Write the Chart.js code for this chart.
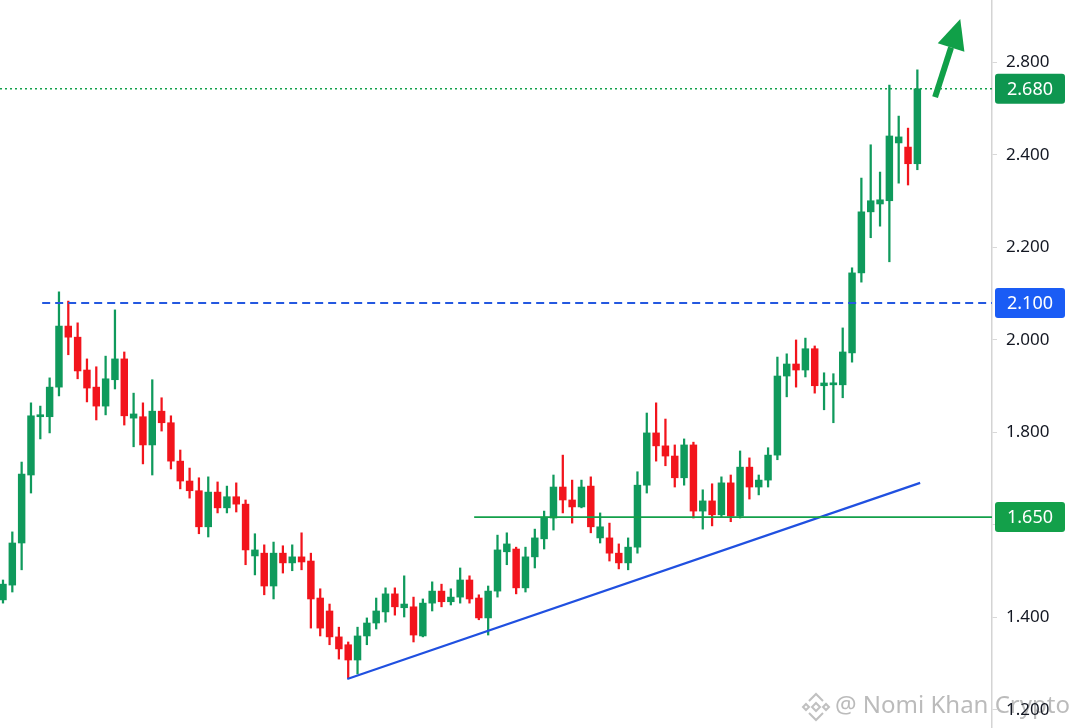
<!DOCTYPE html>
<html>
<head>
<meta charset="utf-8">
<script src="https://cdn.jsdelivr.net/npm/chart.js@4.4.1/dist/chart.umd.min.js"></script>
<style>
  html, body { margin: 0; padding: 0; background: #ffffff; }
  #wrap { width: 1080px; height: 728px; }
</style>
</head>
<body>
<div id="wrap"><canvas id="grafico" width="1080" height="728"></canvas></div>
<script>
// ================= DADOS DAS VELAS =================
const candleOpen = [
  1.438, 1.470, 1.561, 1.708, 1.834, 1.834, 1.898, 2.030, 2.006, 1.935,
  1.898, 1.857, 1.914, 1.959, 1.831, 1.834, 1.773, 1.846, 1.821, 1.738,
  1.695, 1.674, 1.596, 1.671, 1.637, 1.661, 1.645, 1.533, 1.539, 1.468,
  1.539, 1.518, 1.531, 1.522, 1.442, 1.414, 1.358, 1.341, 1.308, 1.360,
  1.388, 1.412, 1.451, 1.421, 1.423, 1.360, 1.431, 1.457, 1.434, 1.444,
  1.481, 1.442, 1.399, 1.457, 1.542, 1.548, 1.464, 1.531, 1.570, 1.615,
  1.682, 1.654, 1.639, 1.684, 1.572, 1.572, 1.539, 1.518, 1.552, 1.686,
  1.799, 1.771, 1.749, 1.702, 1.773, 1.630, 1.652, 1.622, 1.691, 1.619,
  1.725, 1.682, 1.697, 1.751, 1.922, 1.948, 1.935, 1.981, 1.901, 1.903,
  1.903, 1.972, 2.145, 2.277, 2.294, 2.301, 2.426, 2.417, 2.381
];
const candleHigh = [
  1.481, 1.585, 1.736, 1.864, 1.857, 1.918, 2.104, 2.084, 2.037, 1.959,
  1.942, 1.965, 2.065, 1.974, 1.885, 1.864, 1.914, 1.875, 1.836, 1.762,
  1.723, 1.702, 1.704, 1.693, 1.684, 1.691, 1.654, 1.581, 1.557, 1.563,
  1.555, 1.557, 1.583, 1.539, 1.462, 1.429, 1.379, 1.347, 1.379, 1.399,
  1.442, 1.464, 1.464, 1.490, 1.444, 1.440, 1.477, 1.472, 1.462, 1.507,
  1.490, 1.449, 1.468, 1.578, 1.583, 1.552, 1.552, 1.591, 1.630, 1.708,
  1.751, 1.697, 1.697, 1.704, 1.626, 1.604, 1.559, 1.572, 1.715, 1.842,
  1.864, 1.829, 1.773, 1.786, 1.779, 1.676, 1.689, 1.704, 1.708, 1.760,
  1.745, 1.708, 1.767, 1.963, 1.970, 2.000, 2.004, 1.987, 1.929, 1.927,
  2.026, 2.156, 2.350, 2.422, 2.363, 2.551, 2.484, 2.458, 2.584
];
const candleLow = [
  1.431, 1.455, 1.503, 1.669, 1.786, 1.799, 1.879, 1.968, 1.916, 1.866,
  1.827, 1.838, 1.894, 1.816, 1.769, 1.732, 1.708, 1.803, 1.721, 1.678,
  1.658, 1.581, 1.574, 1.626, 1.626, 1.628, 1.514, 1.492, 1.449, 1.440,
  1.496, 1.501, 1.503, 1.377, 1.360, 1.341, 1.310, 1.269, 1.278, 1.341,
  1.375, 1.390, 1.405, 1.401, 1.347, 1.358, 1.414, 1.423, 1.427, 1.431,
  1.431, 1.395, 1.362, 1.444, 1.514, 1.451, 1.455, 1.507, 1.548, 1.589,
  1.626, 1.604, 1.637, 1.583, 1.561, 1.522, 1.505, 1.503, 1.539, 1.669,
  1.738, 1.728, 1.682, 1.686, 1.615, 1.591, 1.598, 1.617, 1.607, 1.615,
  1.656, 1.665, 1.682, 1.741, 1.877, 1.898, 1.920, 1.885, 1.849, 1.821,
  1.875, 1.952, 2.125, 2.221, 2.246, 2.169, 2.339, 2.335, 2.368
];
const candleClose = [
  1.472, 1.561, 1.710, 1.836, 1.838, 1.898, 2.030, 2.006, 1.933, 1.896,
  1.857, 1.916, 1.959, 1.836, 1.840, 1.773, 1.846, 1.821, 1.738, 1.695,
  1.674, 1.596, 1.671, 1.637, 1.661, 1.645, 1.546, 1.546, 1.468, 1.539,
  1.518, 1.531, 1.520, 1.440, 1.377, 1.358, 1.332, 1.308, 1.360, 1.388,
  1.414, 1.451, 1.423, 1.429, 1.362, 1.431, 1.457, 1.434, 1.444, 1.481,
  1.440, 1.399, 1.457, 1.546, 1.559, 1.464, 1.531, 1.572, 1.617, 1.682,
  1.654, 1.639, 1.682, 1.596, 1.596, 1.539, 1.518, 1.552, 1.686, 1.799,
  1.771, 1.749, 1.702, 1.773, 1.630, 1.652, 1.622, 1.691, 1.619, 1.725,
  1.682, 1.697, 1.751, 1.922, 1.948, 1.935, 1.981, 1.901, 1.907, 1.907,
  1.974, 2.145, 2.277, 2.301, 2.303, 2.441, 2.439, 2.381, 2.543
];

// ================= EIXO Y =================
const tickValues = [1.2, 1.4, 1.6, 1.8, 2.0, 2.2, 2.4, 2.6];
const tickLabels = ['1.200', '1.400', '1.600', '1.800', '2.000', '2.200', '2.400', '2.800'];

// ================= NÍVEIS E LINHA DE TENDÊNCIA =================
const levelValues = [2.543, 2.080, 1.617];
const levelLabels = ['2.680', '2.100', '1.650'];
const levelStart = [-0.32, 4.2, 50.5];
const trendX = [36.9, 98.3];
const trendY = [1.267, 1.691];
const arrowX = [99.9, 102.6];
const arrowY = [2.525, 2.694];

const VERDE = '#0f9a5c';
const VERMELHO = '#f2141c';
const X_MIN = -0.32, X_MAX = 106;

const idx = candleOpen.map((_, i) => i);
const corVela = idx.map(i => candleClose[i] >= candleOpen[i] ? VERDE : VERMELHO);

// Plugin: marca d'água, caixas dos níveis e seta
const extras = {
  id: 'extras',
  beforeDraw(chart) {
    const ctx = chart.ctx;
    ctx.save();
    // ícone
    ctx.strokeStyle = 'rgba(185,185,185,0.9)';
    ctx.lineWidth = 2;
    const losango = (cx, cy, r) => {
      ctx.beginPath();
      ctx.moveTo(cx, cy - r); ctx.lineTo(cx + r, cy); ctx.lineTo(cx, cy + r); ctx.lineTo(cx - r, cy);
      ctx.closePath(); ctx.stroke();
    };
    losango(816, 707, 4);
    losango(806, 707, 3);
    losango(826, 707, 3);
    ctx.beginPath();
    ctx.moveTo(809, 701); ctx.lineTo(816, 694); ctx.lineTo(823, 701);
    ctx.moveTo(809, 713); ctx.lineTo(816, 720); ctx.lineTo(823, 713);
    ctx.stroke();
    ctx.fillStyle = 'rgba(175,175,175,0.85)';
    ctx.font = '24px "Noto Sans"';
    ctx.textBaseline = 'middle';
    ctx.fillText('@ Nomi Khan Crypto', 835, 706);
    ctx.restore();
  },
  afterDraw(chart) {
    const ctx = chart.ctx;
    const y = chart.scales.y, x = chart.scales.x;
    const cores = ['#0e9650', '#1a5cf5', '#13a04a'];
    ctx.save();
    levelValues.forEach((v, i) => {
      const py = y.getPixelForValue(v);
      ctx.fillStyle = cores[i];
      ctx.beginPath();
      ctx.roundRect(995, py - 15, 70, 30, 3);
      ctx.fill();
      ctx.fillStyle = '#ffffff';
      ctx.font = '18px "Noto Sans"';
      ctx.textAlign = 'center';
      ctx.textBaseline = 'middle';
      ctx.fillText(levelLabels[i], 1030, py + 1);
    });
    // seta
    const x0 = x.getPixelForValue(arrowX[0]), y0 = y.getPixelForValue(arrowY[0]);
    const x1 = x.getPixelForValue(arrowX[1]), y1 = y.getPixelForValue(arrowY[1]);
    const ang = Math.atan2(y1 - y0, x1 - x0);
    const cab = 30, meia = 14;
    const bx = x1 - cab * Math.cos(ang), by = y1 - cab * Math.sin(ang);
    ctx.strokeStyle = '#10a048';
    ctx.fillStyle = '#10a048';
    ctx.lineWidth = 6;
    ctx.beginPath();
    ctx.moveTo(x0, y0);
    ctx.lineTo(bx, by);
    ctx.stroke();
    ctx.beginPath();
    ctx.moveTo(x1, y1);
    ctx.lineTo(bx + meia * Math.sin(ang), by - meia * Math.cos(ang));
    ctx.lineTo(bx - meia * Math.sin(ang), by + meia * Math.cos(ang));
    ctx.closePath();
    ctx.fill();
    ctx.restore();
  }
};

const linha = (xs, ys, cor, largura, dash) => ({
  type: 'line',
  data: xs.map((v, i) => ({ x: v, y: ys[i] })),
  borderColor: cor,
  borderWidth: largura,
  borderDash: dash,
  pointRadius: 0,
  fill: false,
  tension: 0,
  order: 0
});

new Chart(document.getElementById('grafico'), {
  type: 'bar',
  data: {
    datasets: [
      {
        label: 'pavio',
        data: idx.map(i => ({ x: i, y: [candleLow[i], candleHigh[i]] })),
        backgroundColor: corVela,
        barThickness: 1.6,
        grouped: false,
        order: 2
      },
      {
        label: 'corpo',
        data: idx.map(i => ({ x: i, y: [candleOpen[i], candleClose[i]] })),
        backgroundColor: corVela,
        barThickness: 6.8,
        minBarLength: 2,
        grouped: false,
        order: 1
      },
      linha([levelStart[0], X_MAX], [levelValues[0], levelValues[0]], '#13a04a', 1.5, [2, 3]),
      linha([levelStart[1], X_MAX], [levelValues[1], levelValues[1]], '#2458e0', 2, [8, 5]),
      linha([levelStart[2], X_MAX], [levelValues[2], levelValues[2]], '#13a04a', 1.6, []),
      linha(trendX, trendY, '#2050e0', 2.2, [])
    ]
  },
  options: {
    responsive: false,
    animation: false,
    layout: { padding: 0 },
    plugins: { legend: { display: false }, tooltip: { enabled: false } },
    scales: {
      x: {
        type: 'linear',
        min: X_MIN,
        max: X_MAX,
        display: false,
        offset: false
      },
      y: {
        position: 'right',
        min: 1.161,
        max: 2.735,
        afterFit: s => { s.width = 88; s.paddingTop = 0; s.paddingBottom = 0; },
        afterBuildTicks: s => { s.ticks = tickValues.map(v => ({ value: v })); },
        border: { display: true, color: '#d4d4d4', width: 1.5 },
        grid: { drawOnChartArea: false, drawTicks: true, tickLength: 5, color: '#d8d8d8' },
        ticks: {
          padding: 9,
          color: '#131722',
          font: { family: 'Noto Sans', size: 17 },
          callback: v => {
            const k = tickValues.findIndex(t => Math.abs(t - v) < 1e-6);
            return k >= 0 ? tickLabels[k] : '';
          }
        }
      }
    }
  },
  plugins: [extras]
});
</script>
</body>
</html>
